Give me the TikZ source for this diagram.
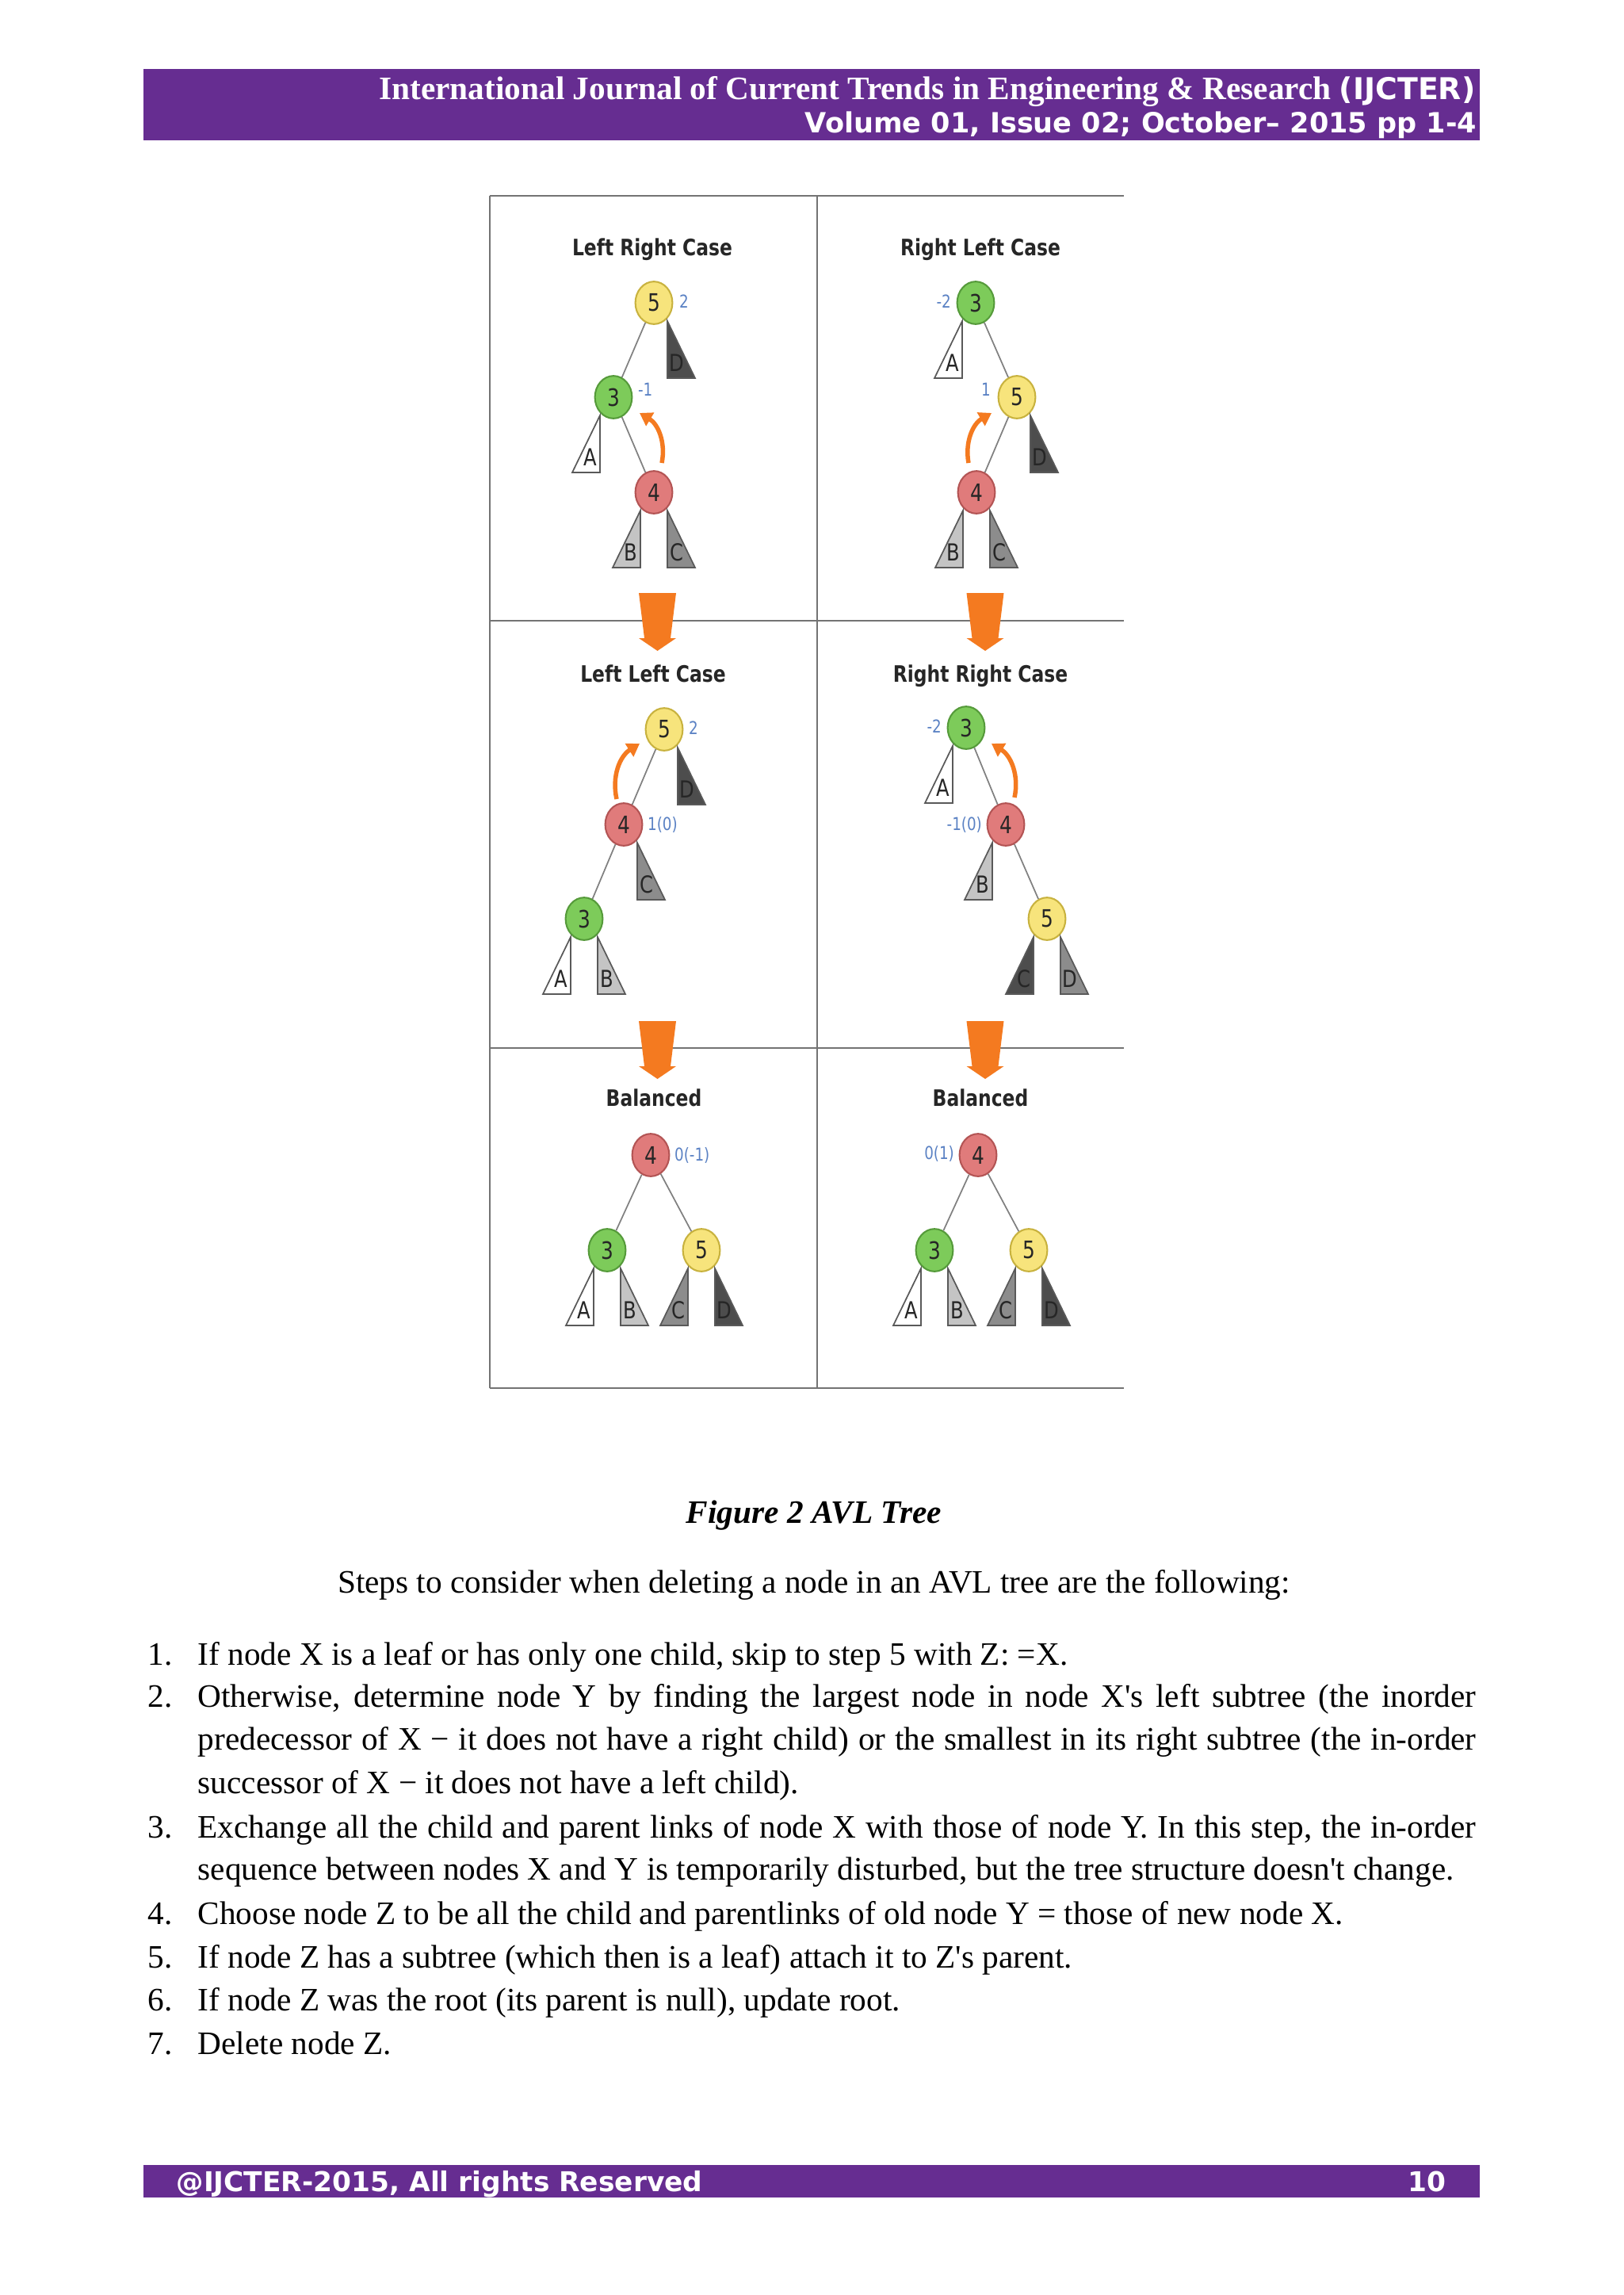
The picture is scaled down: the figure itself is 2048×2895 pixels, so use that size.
\documentclass[tikz,border=0pt]{standalone}
\usepackage{fontspec}
\setmainfont{Liberation Serif}
\newfontfamily\dvs{DejaVu Sans}
\usetikzlibrary{shapes.geometric,arrows.meta}
\definecolor{hdr}{HTML}{662D91}
\definecolor{orng}{HTML}{F47A20}
\definecolor{yfill}{HTML}{F7E47C}
\definecolor{ydraw}{HTML}{C8B23E}
\definecolor{gfill}{HTML}{7DCB5A}
\definecolor{gdraw}{HTML}{559A3A}
\definecolor{rfill}{HTML}{E07B7B}
\definecolor{rdraw}{HTML}{B35454}
\definecolor{balblue}{HTML}{5B82C4}
\definecolor{trib}{HTML}{C4C4C4}
\definecolor{tric}{HTML}{8C8C8C}
\definecolor{trid}{HTML}{4D4D4D}
\newcommand\squeezetxt[1]{\scalebox{0.82}[1]{#1}}
\newcommand\subtri[5]{% #1 node, #2 side (1 right, -1 left), #3 fill, #4 label, #5 label name
  \draw[tri,fill=#3] ([shift={(#2*17,23)}]#1.center) -- ++(0,72) -- ++(#2*35,0) -- cycle;
  \node[trilbl] (#5) at ([shift={(#2*29,76)}]#1.center) {\squeezetxt{#4}};
}
\newcommand\downarr[2]{%
  \fill[orng,shift={(#1,#2)}] (806,748) -- (853,748) -- (846,805) -- (853,805) -- (829.5,821) -- (806,805) -- (813,805) -- cycle;
}
\begin{document}
\begin{tikzpicture}[x=0.290664pt,y=-0.290664pt,
  frameline/.style={draw=black!55, line width=0.8pt},
  edge/.style={draw=black!50, line width=0.5pt},
  avl/.style={ellipse, minimum width=13.6pt, minimum height=15.6pt, inner sep=0pt, line width=0.6pt, font=\dvs\fontsize{8.8}{9}\selectfont, text=black!85},
  ynode/.style={avl, fill=yfill, draw=ydraw},
  gnode/.style={avl, fill=gfill, draw=gdraw},
  rnode/.style={avl, fill=rfill, draw=rdraw},
  tri/.style={draw=black!65, line width=0.5pt},
  trilbl/.style={inner sep=0pt, font=\dvs\fontsize{8.6}{9}\selectfont, text=black!85},
  bal/.style={inner sep=0pt, font=\dvs\fontsize{6.5}{7}\selectfont, text=balblue},
  ttl/.style={inner sep=0pt, anchor=base, font=\dvs\bfseries\fontsize{8.3}{10}\selectfont, text=black!85},
  rot/.style={draw=orng, line width=1.6pt, -{Triangle[length=4.5pt,width=5.5pt]}},
  body/.style={inner sep=0pt, anchor=base west, font=\fontsize{12}{14}\selectfont},
]
\useasboundingbox (0,0) rectangle (2048,2895);
\fill[white] (0,0) rectangle (2048,2895);

% header
\fill[hdr] (181,87) rectangle (1867,177);
\node[inner sep=0pt, anchor=base east, text=white] (h1) at (1862,125)
  {\fontsize{12}{14}\selectfont\bfseries International Journal of Current Trends in Engineering \& Research {\dvs\fontsize{11}{13}\selectfont (IJCTER)}};
\node[inner sep=0pt, anchor=base east, text=white] (h2) at (1864,167)
  {\dvs\bfseries\fontsize{10.2}{12}\selectfont Volume 01, Issue 02; October– 2015 pp 1-4};

% frame
\draw[frameline] (618,247) -- (1418,247);
\draw[frameline] (618,783) -- (1418,783);
\draw[frameline] (618,1322) -- (1418,1322);
\draw[frameline] (618,1751) -- (1418,1751);
\draw[frameline] (618,247) -- (618,1751);
\draw[frameline] (1031,247) -- (1031,1751);

% down arrows
\downarr{0}{0}
\downarr{413.5}{0}
\downarr{0}{540}
\downarr{413.5}{540}

% titles
\node[ttl] (t1) at (823,322) {\squeezetxt{Left Right Case}};
\node[ttl] (t2) at (1237,322) {\squeezetxt{Right Left Case}};
\node[ttl] (t3) at (824,860) {\squeezetxt{Left Left Case}};
\node[ttl] (t4) at (1237,860) {\squeezetxt{Right Right Case}};
\node[ttl] (t5) at (825,1395) {\squeezetxt{Balanced}};
\node[ttl] (t6) at (1237,1395) {\squeezetxt{Balanced}};

% panel 1: Left Right Case
\node[ynode] (a5) at (825,382) {\squeezetxt{5}};
\node[gnode] (a3) at (774,501) {\squeezetxt{3}};
\node[rnode] (a4) at (825,621) {\squeezetxt{4}};
\draw[edge] (a5) -- (a3);
\draw[edge] (a3) -- (a4);
\subtri{a5}{1}{trid}{D}{a5D}
\subtri{a3}{-1}{white}{A}{a3A}
\subtri{a4}{-1}{trib}{B}{a4B}
\subtri{a4}{1}{tric}{C}{a4C}
\node[bal, anchor=west] (ba5) at ([shift={(7,-2)}]a5.east) {\squeezetxt{2}};
\node[bal, anchor=west] (ba3) at ([shift={(6,-10)}]a3.east) {\squeezetxt{-1}};
\coordinate (r1s) at (835,584);
\coordinate (r1e) at (807,521);
\draw[rot] (r1s) to[bend right=35] (r1e);

% panel 2: Right Left Case
\node[gnode] (b3) at (1231,382) {\squeezetxt{3}};
\node[ynode] (b5) at (1283,501) {\squeezetxt{5}};
\node[rnode] (b4) at (1232,621) {\squeezetxt{4}};
\draw[edge] (b3) -- (b5);
\draw[edge] (b5) -- (b4);
\subtri{b3}{-1}{white}{A}{b3A}
\subtri{b5}{1}{trid}{D}{b5D}
\subtri{b4}{-1}{trib}{B}{b4B}
\subtri{b4}{1}{tric}{C}{b4C}
\node[bal, anchor=east] (bb3) at ([shift={(-6,-2)}]b3.west) {\squeezetxt{-2}};
\node[bal, anchor=east] (bb5) at ([shift={(-8,-10)}]b5.west) {\squeezetxt{1}};
\coordinate (r2s) at (1222,584);
\coordinate (r2e) at (1251,521);
\draw[rot] (r2s) to[bend left=35] (r2e);

% panel 3: Left Left Case
\node[ynode] (c5) at (838,920) {\squeezetxt{5}};
\node[rnode] (c4) at (787,1040) {\squeezetxt{4}};
\node[gnode] (c3) at (737,1159) {\squeezetxt{3}};
\draw[edge] (c5) -- (c4);
\draw[edge] (c4) -- (c3);
\subtri{c5}{1}{trid}{D}{c5D}
\subtri{c4}{1}{tric}{C}{c4C}
\subtri{c3}{-1}{white}{A}{c3A}
\subtri{c3}{1}{trib}{B}{c3B}
\node[bal, anchor=west] (bc5) at ([shift={(6,-2)}]c5.east) {\squeezetxt{2}};
\node[bal, anchor=west] (bc4) at ([shift={(5,0)}]c4.east) {\squeezetxt{1(0)}};
\coordinate (r3s) at (778,1008);
\coordinate (r3e) at (807,938);
\draw[rot] (r3s) to[bend left=35] (r3e);

% panel 4: Right Right Case
\node[gnode] (d3) at (1219,918) {\squeezetxt{3}};
\node[rnode] (d4) at (1269,1040) {\squeezetxt{4}};
\node[ynode] (d5) at (1321,1159) {\squeezetxt{5}};
\draw[edge] (d3) -- (d4);
\draw[edge] (d4) -- (d5);
\subtri{d3}{-1}{white}{A}{d3A}
\subtri{d4}{-1}{trib}{B}{d4B}
\subtri{d5}{-1}{trid}{C}{d5C}
\subtri{d5}{1}{tric}{D}{d5D}
\node[bal, anchor=east] (bd3) at ([shift={(-6,-2)}]d3.west) {\squeezetxt{-2}};
\node[bal, anchor=east] (bd4) at ([shift={(-5,0)}]d4.west) {\squeezetxt{-1(0)}};
\coordinate (r4s) at (1280,1006);
\coordinate (r4e) at (1251,938);
\draw[rot] (r4s) to[bend right=35] (r4e);

% panel 5: Balanced (left)
\node[rnode] (e4) at (821,1457) {\squeezetxt{4}};
\node[gnode] (e3) at (766,1577) {\squeezetxt{3}};
\node[ynode] (e5) at (885,1577) {\squeezetxt{5}};
\draw[edge] (e4) -- (e3);
\draw[edge] (e4) -- (e5);
\subtri{e3}{-1}{white}{A}{e3A}
\subtri{e3}{1}{trib}{B}{e3B}
\subtri{e5}{-1}{tric}{C}{e5C}
\subtri{e5}{1}{trid}{D}{e5D}
\node[bal, anchor=west] (be4) at ([shift={(5,0)}]e4.east) {\squeezetxt{0(-1)}};

% panel 6: Balanced (right)
\node[rnode] (f4) at (1234,1457) {\squeezetxt{4}};
\node[gnode] (f3) at (1179,1577) {\squeezetxt{3}};
\node[ynode] (f5) at (1298,1577) {\squeezetxt{5}};
\draw[edge] (f4) -- (f3);
\draw[edge] (f4) -- (f5);
\subtri{f3}{-1}{white}{A}{f3A}
\subtri{f3}{1}{trib}{B}{f3B}
\subtri{f5}{-1}{tric}{C}{f5C}
\subtri{f5}{1}{trid}{D}{f5D}
\node[bal, anchor=east] (bf4) at ([shift={(-5,-2)}]f4.west) {\squeezetxt{0(1)}};

% caption and text
\node[inner sep=0pt, anchor=base, font=\fontsize{12}{14}\selectfont\bfseries\itshape] (cap) at (1027,1921) {Figure 2 AVL Tree};
\node[inner sep=0pt, anchor=base, font=\fontsize{12}{14}\selectfont] (intro) at (1027,2009) {Steps to consider when deleting a node in an AVL tree are the following:};

\node[body] (n1) at (186,2100) {1.};
\node[body] (l1) at (249,2100) {If node X is a leaf or has only one child, skip to step 5 with Z: =X.};
\node[body] (n2) at (186,2153) {2.};
\node[body] (l2a) at (249,2153) {\makebox[468.8pt][s]{Otherwise, determine node Y by finding the largest node in node X\textquotesingle s left subtree (the inorder}};
\node[body] (l2b) at (249,2207) {\makebox[468.8pt][s]{predecessor of X − it does not have a right child) or the smallest in its right subtree (the in-order}};
\node[body] (l2c) at (249,2262) {successor of X − it does not have a left child).};
\node[body] (n3) at (186,2318) {3.};
\node[body] (l3a) at (249,2318) {\makebox[468.8pt][s]{Exchange all the child and parent links of node X with those of node Y. In this step, the in-order}};
\node[body] (l3b) at (249,2371) {sequence between nodes X and Y is temporarily disturbed, but the tree structure doesn\textquotesingle t change.};
\node[body] (n4) at (186,2427) {4.};
\node[body] (l4) at (249,2427) {Choose node Z to be all the child and parentlinks of old node Y = those of new node X.};
\node[body] (n5) at (186,2482) {5.};
\node[body] (l5) at (249,2482) {If node Z has a subtree (which then is a leaf) attach it to Z\textquotesingle s parent.};
\node[body] (n6) at (186,2536) {6.};
\node[body] (l6) at (249,2536) {If node Z was the root (its parent is null), update root.};
\node[body] (n7) at (186,2591) {7.};
\node[body] (l7) at (249,2591) {Delete node Z.};

% footer
\fill[hdr] (181,2731) rectangle (1867,2772);
\node[inner sep=0pt, anchor=base west, text=white, font=\dvs\bfseries\fontsize{10}{12}\selectfont] (fl) at (222,2764) {@IJCTER-2015, All rights Reserved};
\node[inner sep=0pt, anchor=base east, text=white, font=\dvs\bfseries\fontsize{10}{12}\selectfont] (fr) at (1825,2764) {10};
\end{tikzpicture}
\end{document}
